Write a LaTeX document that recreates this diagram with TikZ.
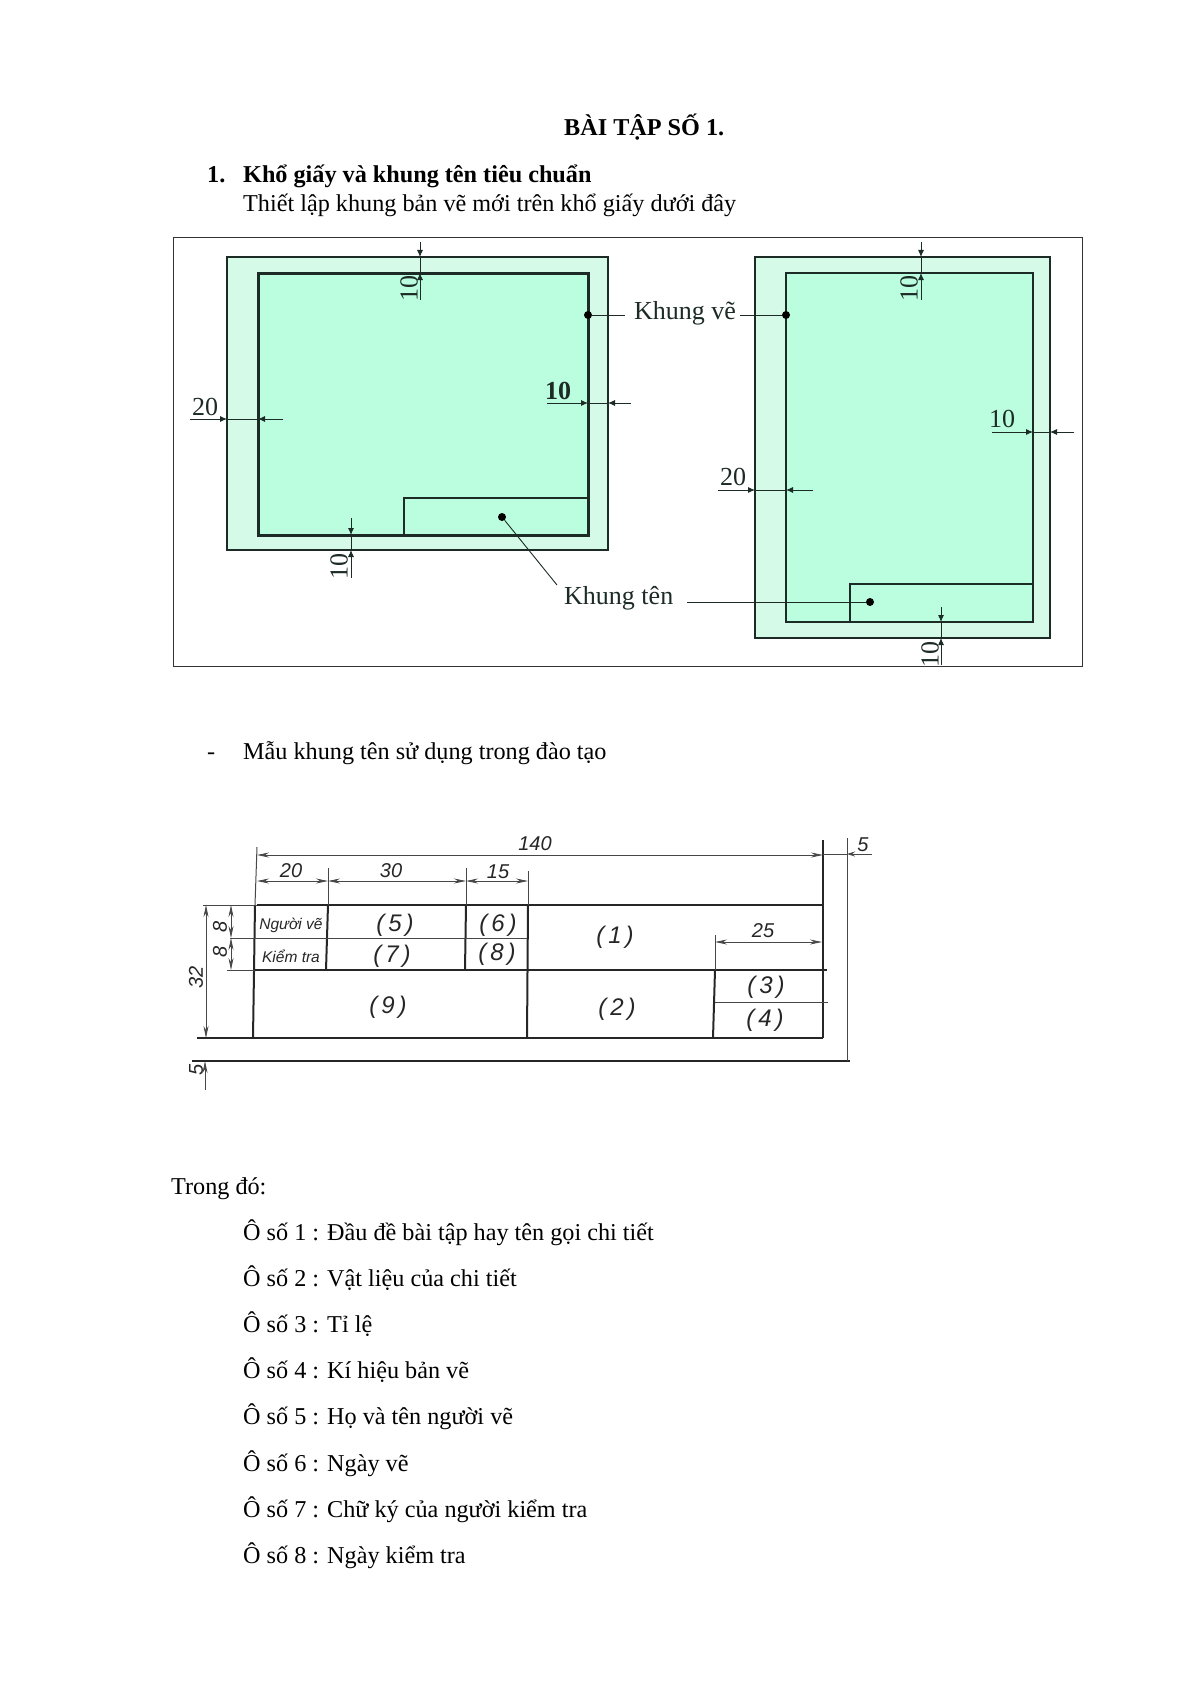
\documentclass[tikz,border=0pt]{standalone}
\usepackage{fontspec}
\setmainfont{Liberation Serif}
\setsansfont{Liberation Sans}
\usetikzlibrary{arrows.meta}
\definecolor{sheetgreen}{HTML}{D5FBE8}
\definecolor{framegreen}{HTML}{BBFDDF}
\definecolor{inkdark}{HTML}{1C2B26}
\definecolor{pencil}{HTML}{262626}

\begin{document}
\begin{tikzpicture}[x=1pt,y=-1pt,
    pagetext/.style={anchor=base west,inner sep=0pt,font=\fontsize{24.2}{24.2}\selectfont},
    pagebold/.style={pagetext,font=\bfseries\fontsize{24.2}{24.2}\selectfont},
    sheetlabel/.style={inner sep=0pt,text=inkdark,font=\fontsize{26}{26}\selectfont},
    sheetline/.style={draw=inkdark,line width=2pt},
    dimline/.style={draw=inkdark,line width=0.9pt,-{Latex[length=7pt,width=6pt]}},
    dimplain/.style={draw=inkdark,line width=0.9pt},
    dotmark/.style={circle,fill=black,minimum size=8pt,inner sep=0pt},
    tablethick/.style={draw=pencil,line width=2pt},
    tablethin/.style={draw=pencil!85,line width=1pt},
    tabledim/.style={draw=pencil!85,line width=0.9pt,{Stealth[length=12pt,width=5pt]}-{Stealth[length=12pt,width=5pt]}},
    cell/.style={inner sep=0pt,text=pencil,font=\sffamily\itshape\fontsize{24}{24}\selectfont},
    cellword/.style={inner sep=0pt,text=pencil,font=\sffamily\itshape\fontsize{15.5}{15.5}\selectfont},
    celldim/.style={inner sep=0pt,text=pencil,font=\sffamily\itshape\fontsize{20}{20}\selectfont}]
  \useasboundingbox (0,0) rectangle (1200,1696);

  % heading
  \node[pagebold] (title) at (564,136) {BÀI TẬP SỐ 1.};
  \node[pagebold] (num) at (207,183) {1.};
  \node[pagebold] (sec) at (243,183) {Khổ giấy và khung tên tiêu chuẩn};
  \node[pagetext] (intro) at (243,212) {Thiết lập khung bản vẽ mới trên khổ giấy dưới đây};

  % sheets
  \draw[draw=black!80,line width=1pt] (173,238) rectangle (1082,666);
  \draw[sheetline,fill=sheetgreen] (227,257) rectangle (608,550);
  \draw[sheetline,fill=framegreen,line width=3pt] (258,273) rectangle (588,535);
  \draw[sheetline] (404,535) -- (404,498) -- (588,498);
  \draw[sheetline,fill=sheetgreen] (755,257) rectangle (1050,638);
  \draw[sheetline,fill=framegreen] (786,273) rectangle (1033,622);
  \draw[sheetline] (850,622) -- (850,584) -- (1033,584);

  % dimensions of the sheets
  \foreach \ya/\xa/\xb/\xc/\xd in {419/190/227/258/283,403/547/588/608/631,432/992/1033/1050/1074,490/718/755/786/813} {
    \draw[dimline] (\xa,\ya) -- (\xb,\ya);
    \draw[dimplain] (\xb,\ya) -- (\xc,\ya);
    \draw[dimline] (\xd,\ya) -- (\xc,\ya);
  }
  \foreach \xa/\ya/\yb/\yc/\yd in {420/242/257/273/300,351/518/535/550/578,921/242/257/273/300,941/607/622/638/665} {
    \draw[dimline] (\xa,\ya) -- (\xa,\yb);
    \draw[dimplain] (\xa,\yb) -- (\xa,\yc);
    \draw[dimline] (\xa,\yd) -- (\xa,\yc);
  }
  \node[sheetlabel] (lefttop) at (409,288) [rotate=90] {10};
  \node[sheetlabel] (leftbot) at (339,566) [rotate=90] {10};
  \node[sheetlabel] (righttop) at (909,288) [rotate=90] {10};
  \node[sheetlabel] (rightbot) at (930,654) [rotate=90] {10};
  \node[sheetlabel] (leftgap) at (205,407) {20};
  \node[sheetlabel,font=\bfseries\fontsize{26}{26}\selectfont] (leftside) at (558,391) {10};
  \node[sheetlabel] (rightside) at (1002,419) {10};
  \node[sheetlabel] (rightgap) at (733,477) {20};

  % leaders
  \node[sheetlabel,anchor=base west] (frame) at (634,319) {Khung vẽ};
  \node[sheetlabel,anchor=base west] (block) at (564,604) {Khung tên};
  \node[dotmark] (frameleft) at (588,315) {};
  \node[dotmark] (frameright) at (786,315) {};
  \node[dotmark] (blockleft) at (502,517) {};
  \node[dotmark] (blockright) at (870,602) {};
  \coordinate (frameleftend) at (625,315);
  \coordinate (framerightend) at (740,315);
  \coordinate (blockleftend) at (557,585);
  \coordinate (blockrightend) at (687,602);
  \draw[dimplain] (frameleft) -- (frameleftend);
  \draw[dimplain] (frameright) -- (framerightend);
  \draw[dimplain] (blockleft) -- (blockleftend);
  \draw[dimplain] (blockright) -- (blockrightend);

  \node[pagetext] (dash) at (207,759) {-};
  \node[pagetext] (sample) at (243,759) {Mẫu khung tên sử dụng trong đào tạo};

  % title block
  \draw[tablethick] (257,905) -- (823,905);
  \draw[tablethick] (255,970) -- (827,970);
  \draw[tablethick] (197,1038) -- (823,1038);
  \draw[tablethick] (192,1061) -- (850,1061);
  \draw[tablethick] (255,905) -- (253,1038);
  \draw[tablethick] (328,905) -- (326,970);
  \draw[tablethick] (466,905) -- (465,970);
  \draw[tablethick] (528,905) -- (527,1038);
  \draw[tablethick] (715,970) -- (713,1038);
  \draw[tablethick] (823,840) -- (823,1038);
  \draw[tablethin] (847,838) -- (847,1061);
  \draw[tablethin] (230,938) -- (527,938);
  \draw[tablethin] (227,970) -- (255,970);
  \draw[tablethin] (715,1002) -- (828,1002);
  \draw[tablethin] (203,905) -- (257,905);
  \draw[tablethin] (257,847) -- (255,905);
  \draw[tablethin] (328,868) -- (328,905);
  \draw[tablethin] (466,868) -- (466,905);
  \draw[tablethin] (528,871) -- (528,905);
  \draw[tablethin] (715,935) -- (715,970);

  % dimensions of the block
  \draw[tabledim] (257,855) -- (823,855);
  \draw[tabledim] (257,881) -- (328,881);
  \draw[tabledim] (328,881) -- (466,881);
  \draw[tabledim] (466,881) -- (528,881);
  \draw[tabledim] (715,942) -- (822,942);
  \draw[tabledim] (206,905) -- (206,1038);
  \draw[tabledim] (231,905) -- (231,938);
  \draw[tabledim] (231,938) -- (231,970);
  \draw[tablethin,{Stealth[length=12pt,width=5pt]}-] (205,1061) -- (205,1090);
  \draw[tablethin,{Stealth[length=8pt,width=5pt]}-] (847,854) -- (872,854);
  \draw[tablethin] (823,854) -- (847,854);

  \node[celldim] (widthall) at (535,844) {140};
  \node[celldim] (widtha) at (291,871) {20};
  \node[celldim] (widthb) at (391,871) {30};
  \node[celldim] (widthc) at (498,872) {15};
  \node[celldim] (widthd) at (763,931) {25};
  \node[celldim] (marginr) at (863,845) {5};
  \node[celldim,rotate=90] (heightall) at (196,977) {32};
  \node[celldim,rotate=90] (heighta) at (220,927) {8};
  \node[celldim,rotate=90] (heightb) at (220,952) {8};
  \node[celldim,rotate=90] (marginb) at (196,1070) {5};

  \node[cellword] (drawer) at (291,925) {Người vẽ};
  \node[cellword] (checker) at (291,956) {Kiểm tra};
  \foreach \cellname/\cx/\cy in {1/615/937,2/617/1009,3/766/987,4/765/1020,5/395/925,6/498/925,7/392/956,8/497/954,9/388/1007}
    \node[cell] (box\cellname) at (\cx,\cy) {(\,\cellname\,)};

  % list
  \node[pagetext] (where) at (171,1194) {Trong đó:};
  \foreach \boxtext [count=\i] in {Đầu đề bài tập hay tên gọi chi tiết,Vật liệu của chi tiết,Tỉ lệ,Kí hiệu bản vẽ,Họ và tên người vẽ,Ngày vẽ,Chữ ký của người kiểm tra,Ngày kiểm tra} {
    \pgfmathsetmacro{\rowy}{1240+46.2*(\i-1)}
    \node[pagetext] (row\i) at (243,\rowy) {Ô số \i{} : \boxtext};
  }
\end{tikzpicture}
\end{document}
